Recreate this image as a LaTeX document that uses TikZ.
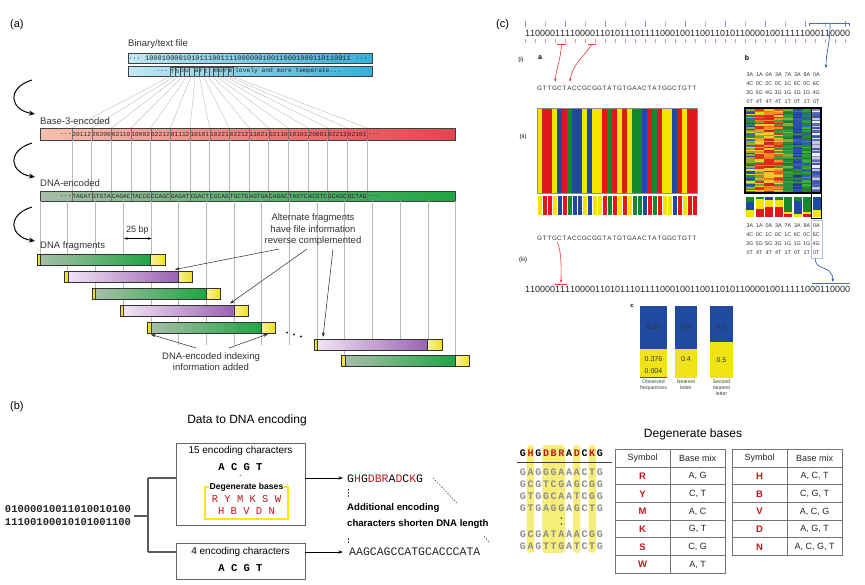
\documentclass[tikz,border=0pt]{standalone}
\usepackage{fontspec}
\setmainfont{Liberation Sans}
\setsansfont{Liberation Sans}
\setmonofont{Liberation Mono}
\usetikzlibrary{arrows.meta}
\newcommand\fsz[2]{\fontsize{#1}{#2}\selectfont}
\definecolor{cyanL}{HTML}{C2E8F3}
\definecolor{cyanR}{HTML}{35B0DA}
\definecolor{redL}{HTML}{F6BFB0}
\definecolor{redR}{HTML}{E6434E}
\definecolor{grnL}{HTML}{A8BEA8}
\definecolor{grnR}{HTML}{1FA544}
\definecolor{purL}{HTML}{F1E4F4}
\definecolor{purR}{HTML}{9A62B2}
\definecolor{fyL}{HTML}{F8F0A0}
\definecolor{fyR}{HTML}{F0E020}
\definecolor{colG}{HTML}{F5E400}
\definecolor{colT}{HTML}{E2171C}
\definecolor{colC}{HTML}{1F48A6}
\definecolor{colA}{HTML}{12892E}
\definecolor{cblue}{HTML}{1F4AA0}
\definecolor{cyel}{HTML}{F0E418}
\definecolor{dred}{HTML}{C4161C}
\definecolor{hlyel}{HTML}{F7EE7A}
% heatmap palettes
\definecolor{hm01}{HTML}{2A4FA0}\definecolor{hm02}{HTML}{2E8B3A}\definecolor{hm03}{HTML}{E8D82A}\definecolor{hm04}{HTML}{9AA83A}\definecolor{hm05}{HTML}{3A6AB0}
\definecolor{hm11}{HTML}{F08A20}\definecolor{hm12}{HTML}{F0D020}\definecolor{hm13}{HTML}{E03020}\definecolor{hm14}{HTML}{6AA83A}\definecolor{hm15}{HTML}{F0A030}
\definecolor{hm21}{HTML}{E02A20}\definecolor{hm22}{HTML}{F07A20}\definecolor{hm23}{HTML}{F0C828}\definecolor{hm24}{HTML}{C8281E}\definecolor{hm25}{HTML}{F09020}
\definecolor{hm31}{HTML}{E85A1E}\definecolor{hm32}{HTML}{3C9A3A}\definecolor{hm33}{HTML}{F09028}\definecolor{hm34}{HTML}{E8D030}\definecolor{hm35}{HTML}{D83020}
\definecolor{hm41}{HTML}{2E9A3A}\definecolor{hm42}{HTML}{1E7A2E}\definecolor{hm43}{HTML}{88A83A}\definecolor{hm44}{HTML}{2A8A40}\definecolor{hm45}{HTML}{3AA040}
\definecolor{hm51}{HTML}{2A4FA8}\definecolor{hm52}{HTML}{1E3A8A}\definecolor{hm53}{HTML}{2E8A3E}\definecolor{hm54}{HTML}{3A5AB8}\definecolor{hm55}{HTML}{2A4FA8}
\definecolor{hm61}{HTML}{2EA03A}\definecolor{hm62}{HTML}{1E8A30}\definecolor{hm63}{HTML}{3AB040}\definecolor{hm64}{HTML}{2A7A2A}\definecolor{hm65}{HTML}{3A5AB0}
\definecolor{hm71}{HTML}{3A5AB0}\definecolor{hm72}{HTML}{C8C8D8}\definecolor{hm73}{HTML}{F0F0F5}\definecolor{hm74}{HTML}{8890C8}\definecolor{hm75}{HTML}{5A6AB8}

\newcommand\dnafrag[4]{%
  \shade[left color=#3, right color=#4] (#1+3,#2) rectangle (#1+113.8,#2+11);
  \shade[left color=fyL, right color=fyR] (#1+113.8,#2) rectangle (#1+128,#2+11);
  \fill[fyR] (#1,#2) rectangle (#1+3,#2+11);
  \draw[fragframe] (#1,#2) rectangle (#1+128,#2+11);
  \draw[fragframe] (#1+113.8,#2) -- (#1+113.8,#2+11);
  \draw[fragframe, line width=0.4pt] (#1+3,#2) -- (#1+3,#2+11);
}
\def\bitlist{1,1,0,0,0,0,1,1,1,1,0,0,0,0,1,1,0,1,0,1,1,1,0,1,1,1,1,0,0,0,1,0,0,1,1,0,0,1,1,0,1,0,1,1,0,0,0,0,1,0,0,1,1,1,1,1,0,0,0,1,1,0,0,0,0}

\begin{document}
\begin{tikzpicture}[x=1pt,y=-1pt,
  lab/.style={font=\fsz{9.5}{11.5}, text=black!80, inner sep=0pt},
  bartxt/.style={font=\ttfamily\fsz{6.2}{6.5}, inner sep=0pt, text=black!85},
  fan/.style={draw=black!28, line width=0.35pt},
  vline/.style={draw=black!28, line width=0.45pt},
  divl/.style={draw=black!55, line width=0.3pt},
  bigcurve/.style={-{Stealth[length=6pt,width=5pt]}, line width=1pt},
  thinarr/.style={-{Stealth[length=4.5pt,width=3pt]}, line width=0.5pt, draw=black!85},
  barframe/.style={draw=black!75, line width=0.8pt},
  fragframe/.style={draw=black!80, line width=0.8pt},
  conn/.style={draw=black!65, line width=1.1pt},
  rarr/.style={-{Stealth[length=4.5pt,width=3pt]}, line width=0.6pt},
  boxst/.style={draw=black!60, line width=0.8pt},
  dashln/.style={draw=black!70, line width=0.6pt, dash pattern=on 1.5pt off 1.5pt},
  tbl/.style={draw=black!55, line width=0.7pt},
  ttxt/.style={font=\fsz{9}{10}, inner sep=0pt, text=black!85},
  tsym/.style={font=\bfseries\fsz{9.5}{10}, inner sep=0pt, text=dred},
  seqtxt/.style={font=\fsz{6.3}{7}, inner sep=0pt, text=black!80},
  bittxt/.style={font=\fsz{9}{9}, inner sep=0pt, text=black!85},
  btxt/.style={font=\fsz{5.4}{6}, inner sep=0pt, text=black!80},
  redarr/.style={-{Stealth[length=3.5pt,width=2.5pt]}, draw=colT!85, line width=0.6pt},
  bluearr/.style={-{Stealth[length=3.5pt,width=2.5pt]}, draw=cblue, line width=0.6pt},
  smlab/.style={font=\fsz{5.2}{6}, inner sep=0pt, text=black!75, align=center},
]
\useasboundingbox (0,0) rectangle (865,584);
\fill[white] (0,0) rectangle (865,584);

%================ PANEL A =================
\node[font=\fsz{11}{13}, anchor=west, inner sep=0pt] (la) at (10,25) {(a)};
\node[lab, anchor=west] (binlab) at (128,44) {Binary/text file};
\shade[left color=cyanL, right color=cyanR] (128,53) rectangle (372,63);
\draw[barframe] (128,53) rectangle (372,63);
\node[bartxt, font=\ttfamily\fsz{7}{7}] (bintxt) at (248,58.3) {··· 1000100001010111001111000000100110001000110110011 ···};
\shade[left color=cyanL, right color=cyanR] (128,66) rectangle (372,76.5);
\draw[barframe] (128,66) rectangle (372,76.5);
\node[bartxt, font=\ttfamily\fsz{6.3}{6.5}, anchor=east] (txtl) at (168,71.3) {...};
\foreach \ch [count=\k from 0] in {T,h,o,u,{},a,r,t,{},m,o,r,e}{
  \draw[black!70, line width=0.4pt] (170+4.85*\k,67) rectangle (174.85+4.85*\k,76);
  \node[bartxt, font=\ttfamily\fsz{6.3}{6.5}] (tc\k) at (172.4+4.85*\k,71.3) {\ch};
}
\node[bartxt, font=\ttfamily\fsz{6.3}{6.5}, anchor=west] (txtr) at (235,71.3) {lovely and more temperate...};

% fan lines
\foreach \i in {0,...,15}{
  \draw[fan] (170+4.2*\i,76.5) -- (72+19.67*\i,128);
}
\draw[bigcurve] (32,80) .. controls (6,88) and (10,110) .. (35,114);
\node[lab, anchor=west] (b3lab) at (40,121) {Base-3-encoded};
\shade[left color=redL, right color=redR] (40,128) rectangle (455,140);
\foreach \i in {0,...,15}{ \draw[divl] (72+19.67*\i,128) -- (72+19.67*\i,140); }
\draw[barframe] (40,128) rectangle (455,140);
\node[bartxt, anchor=east] (r0) at (71.5,134.3) {...};
\foreach \g [count=\i from 0] in {20112,20200,02110,10002,02212,01112,10101,10221,02212,11021,02110,10101,20001,02213,02101}{
  \node[bartxt] (rg\i) at (81.8+19.67*\i,134.3) {\g};
}
\node[bartxt, anchor=west] (r16) at (368,134.3) {...};

\foreach \i in {0,...,15}{ \draw[vline] (72+19.67*\i,140) -- (72+19.67*\i,191); }
\draw[bigcurve] (32,143) .. controls (6,151) and (10,173) .. (35,177);
\node[lab, anchor=west] (dnalab) at (40,183) {DNA-encoded};
\shade[left color=grnL, right color=grnR] (40,191) rectangle (455,201);
\foreach \i in {0,...,15}{ \draw[divl] (72+19.67*\i,191) -- (72+19.67*\i,201); }
\draw[barframe] (40,191) rectangle (455,201);
\node[bartxt, anchor=east] (g0) at (71.5,196.3) {...};
\foreach \g [count=\i from 0] in {TAGAT,GTGTA,CAGAC,TACCG,CCAGC,GAGAT,CGACT,CGCAG,TGCTG,AGTGA,CAGAC,TAGTC,ACGTC,GCAGC,GCTAG}{
  \node[bartxt] (gg\i) at (81.8+19.67*\i,196.3) {\g};
}
\node[bartxt, anchor=west] (g16) at (368,196.3) {...};

% vertical lines below DNA bar
\foreach \i/\e in {0/254,1/271,2/288,3/305,4/322,5/345,6/345,7/345,8/345,9/345,10/339,11/355,12/339,13/339,14/339,15/355}{
  \draw[vline] (40+27.7*\i,201) -- (40+27.7*\i,\e);
}
\draw[bigcurve] (32,207) .. controls (6,215) and (10,237) .. (35,241);
\node[lab, anchor=west] (fraglab) at (40,246.5) {DNA fragments};
\node[font=\fsz{9}{10}, text=black!80, inner sep=0pt] (bp) at (137.5,230) {25 bp};
\coordinate (bpl) at (124,238.5);
\coordinate (bpr) at (151.5,238.5);
\draw[{Stealth[length=3.5pt,width=2.5pt]}-{Stealth[length=3.5pt,width=2.5pt]}, line width=0.6pt] (bpl) -- (bpr);

\dnafrag{37}{254}{grnL}{grnR}
\dnafrag{64.7}{271}{purL}{purR}
\dnafrag{92.4}{288}{grnL}{grnR}
\dnafrag{120.1}{305}{purL}{purR}
\dnafrag{147.8}{322}{grnL}{grnR}
\dnafrag{314}{339}{purL}{purR}
\dnafrag{341.7}{355}{grnL}{grnR}
\foreach \dx/\dy [count=\n] in {287/332.5,294/334.5,301/336.5}{ \fill[black!85] (\dx,\dy) circle (1.1pt); }

\node[lab, align=center] (alt) at (313,230) {Alternate fragments\\have file information\\reverse complemented};
\coordinate (alt1) at (279,249);
\coordinate (alt2) at (307,249);
\coordinate (alt3) at (333,249);
\coordinate (f2t) at (175,269.5);
\coordinate (f4t) at (230,303.5);
\coordinate (f6t) at (323,337);
\draw[thinarr] (alt1) -- (f2t);
\draw[thinarr] (alt2) -- (f4t);
\draw[thinarr] (alt3) -- (f6t);
\node[lab, align=center] (idx) at (211,361.5) {DNA-encoded indexing\\information added};
\coordinate (idx1) at (196,348);
\coordinate (idx2) at (229,348);
\coordinate (f5l) at (151,334.5);
\coordinate (f5r) at (268,334);
\draw[thinarr] (idx1) -- (f5l);
\draw[thinarr] (idx2) -- (f5r);

%================ PANEL B =================
\node[font=\fsz{11}{13}, anchor=west, inner sep=0pt] (lb) at (10,407) {(b)};
\node[font=\fsz{12}{14}, inner sep=0pt] (dtitle) at (247,420) {Data to DNA encoding};
\node[font=\ttfamily\bfseries\fsz{10.5}{13}, align=left, inner sep=0pt, text=black!85] (bin) at (68,516) {01000010011010010100\\11100100010101001100};
\draw[boxst] (176,443) rectangle (305,525);
\node[font=\fsz{10}{11}, inner sep=0pt] (e15) at (240.5,451) {15 encoding characters};
\node[font=\ttfamily\bfseries\fsz{10.5}{11}, inner sep=0pt] (acgt1) at (240.5,467.5) {A C G T};
\node[font=\fsz{5}{6}, inner sep=0pt, text=black!60] (plus) at (240.5,476) {+};
\draw[draw=yellow!90!orange, line width=1.2pt] (205,487) rectangle (288,519);
\node[font=\bfseries\fsz{8.6}{10}, fill=white, inner sep=1pt] (degl) at (246.5,487) {Degenerate bases};
\node[font=\ttfamily\fsz{10.5}{11}, inner sep=0pt, text=dred] (rym) at (246.5,499.5) {R Y M K S W};
\node[font=\ttfamily\fsz{10.5}{11}, inner sep=0pt, text=dred] (hbv) at (246.5,511) {H B V D N};
\draw[boxst] (176,543) rectangle (305,579);
\node[font=\fsz{10}{11}, inner sep=0pt] (e4) at (240.5,551.5) {4 encoding characters};
\node[font=\ttfamily\bfseries\fsz{10.5}{11}, inner sep=0pt] (acgt2) at (240.5,568) {A C G T};
\coordinate (bj) at (148,516);
\coordinate (bjt) at (148,478);
\coordinate (bjb) at (148,552);
\draw[conn] (bin.east)+(3,0) -- (bj);
\draw[conn] (bjt) -- (bjb);
\draw[conn] (bjt) -- (176,478);
\draw[conn] (bjb) -- (176,552);
\coordinate (o1) at (343,478);
\coordinate (o2) at (343,552);
\draw[rarr] (305,478) -- (o1);
\draw[rarr] (305,552) -- (o2);
\node[font=\ttfamily\fsz{11.5}{12}, anchor=west, inner sep=0pt] (short) at (347,479) {G\textcolor{dred}{H}G\textcolor{dred}{DBR}A\textcolor{dred}{D}C\textcolor{dred}{K}G};
\node[font=\ttfamily\fsz{11.5}{12}, anchor=west, inner sep=0pt, text=black!85] (long) at (349,551.5) {AAGCAGCCATGCACCCATA};
\node[font=\bfseries\fsz{9.6}{16}, anchor=north west, align=left, inner sep=0pt] (addl) at (347,503) {Additional encoding\\characters shorten DNA length};
\draw[dashln] (348.5,489) -- (348.5,498);
\draw[dashln] (348.5,538) -- (348.5,544);
\draw[dashln] (433,478) -- (457,503);
\draw[dashln] (484,536) -- (490,543);

% alignment
\foreach \k in {1,7,9}{ \fill[hlyel, rounded corners=3.5pt] (519.2+7.7*\k,445) rectangle (526.5+7.7*\k,553); }
\fill[hlyel, rounded corners=3.5pt] (542.3,445) rectangle (565.3,553);
\foreach \ch/\cc [count=\k from 0] in {G/black,H/dred,G/black,D/dred,B/dred,R/dred,A/black,D/dred,C/black,K/dred,G/black}{
  \node[font=\ttfamily\bfseries\fsz{10}{10}, inner sep=0pt, text=\cc] (hd\k) at (522.9+7.7*\k,453) {\ch};
}
\draw[black!75, line width=0.9pt] (517,462) -- (612,462);
\foreach \s/\yy [count=\r] in {{G,A,G,G,G,A,A,A,C,T,G}/472,{G,C,G,T,C,G,A,G,C,G,G}/484,{G,T,G,G,C,A,A,T,C,G,G}/496,{G,T,G,A,G,G,A,G,C,T,G}/508,{G,C,G,A,T,A,A,A,C,G,G}/534,{G,A,G,T,T,G,A,T,C,T,G}/546}{
  \foreach \ch [count=\k from 0] in \s {
    \node[font=\ttfamily\bfseries\fsz{10}{10}, inner sep=0pt, text=black!45] at (522.9+7.7*\k,\yy) {\ch};
  }
}
\fill[black!70] (561.4,518) circle (0.9pt);
\fill[black!70] (561.4,524) circle (0.9pt);

\node[font=\fsz{12}{14}, inner sep=0pt] (dgtitle) at (693,434) {Degenerate bases};
% table 1
\draw[tbl] (615,449) rectangle (725,573);
\draw[tbl] (670,449) -- (670,573);
\foreach \j in {0,...,4}{ \draw[tbl] (615,467+17.67*\j) -- (725,467+17.67*\j); }
\draw[tbl] (615,555.35) -- (725,555.35);
\node[ttxt] (h1a) at (642.5,458.5) {Symbol};
\node[ttxt] (h1b) at (697.5,458.5) {Base mix};
\foreach \s/\m [count=\j from 0] in {R/{A, G},Y/{C, T},M/{A, C},K/{G, T},S/{C, G},W/{A, T}}{
  \node[tsym] (t1s\j) at (642.5,476.2+17.67*\j) {\s};
  \node[ttxt] (t1m\j) at (697.5,476.2+17.67*\j) {\m};
}
% table 2
\draw[tbl] (732,449) rectangle (842,555.35);
\draw[tbl] (787,449) -- (787,555.35);
\foreach \j in {0,...,4}{ \draw[tbl] (732,467+17.67*\j) -- (842,467+17.67*\j); }
\node[ttxt] (h2a) at (759.5,458.5) {Symbol};
\node[ttxt] (h2b) at (814.5,458.5) {Base mix};
\foreach \s/\m [count=\j from 0] in {H/{A, C, T},B/{C, G, T},V/{A, C, G},D/{A, G, T},N/{A, C, G, T}}{
  \node[tsym] (t2s\j) at (759.5,476.2+17.67*\j) {\s};
  \node[ttxt] (t2m\j) at (814.5,476.2+17.67*\j) {\m};
}

%================ PANEL C =================
\node[font=\fsz{11}{13}, anchor=west, inner sep=0pt] (lc) at (496,25) {(c)};
\foreach \d [count=\k from 0] in \bitlist {
  \node[bittxt] (tb\k) at (527.5+5*\k,33.5) {\d};
  \node[bittxt] (bb\k) at (527.5+5*\k,289.5) {\d};
}
\foreach \k in {0,8,...,64}{ \draw[cblue!60, line width=0.6pt] (525+5*\k,21) -- (525+5*\k,26.5); }
\foreach \k in {4,12,...,60}{ \draw[black!30, line width=0.5pt] (525+5*\k,22) -- (525+5*\k,26.5); }
\foreach \k in {0,2,...,64}{ \draw[colT!45, line width=0.5pt] (525+5*\k,39) -- (525+5*\k,43); }
% brackets
\draw[colT!85, line width=0.7pt] (557,44) -- (566,44);
\draw[colT!85, line width=0.7pt] (588,44) -- (596,44);
\draw[cblue!80, line width=0.8pt] (809,26) -- (809,23) -- (849,23) -- (849,26);
\coordinate (rb1) at (561.5,44);
\coordinate (rb2) at (592,44);
\coordinate (bb1) at (830,24);
\draw[redarr] (rb1) .. controls (561,58) and (556,70) .. (555,82);
\draw[redarr] (rb2) .. controls (585,56) and (572,64) .. (570,82);
\draw[bluearr] (bb1) .. controls (830,45) and (826,52) .. (826,68);

\node[font=\fsz{6}{7}, inner sep=0pt] (ci) at (521,60) {(i)};
\node[font=\fsz{6}{7}, inner sep=0pt] (cii) at (523,137) {(ii)};
\node[font=\fsz{6}{7}, inner sep=0pt] (ciii) at (523,260) {(iii)};
\node[font=\bfseries\fsz{7}{8}, inner sep=0pt] (ca) at (540,58) {a};
\node[font=\bfseries\fsz{7}{8}, inner sep=0pt] (cb) at (747,58) {b};

% stripes (a)
\foreach \ch [count=\k from 0] in {G,T,T,G,C,T,A,C,C,G,C,G,G,T,A,T,G,T,G,A,A,C,T,A,T,G,G,C,T,G,T,T}{
  \fill[col\ch] (537+5*\k,108) rectangle (542.05+5*\k,193);
  \fill[col\ch] (537.7+5*\k,196) rectangle (541.5+5*\k,215);
  \node[seqtxt] (sa\k) at (539.5+5*\k,88) {\ch};
  \node[seqtxt] (sb\k) at (539.5+5*\k,238) {\ch};
}
\draw[black!45, line width=0.6pt] (537,108) rectangle (697,193);

% heatmap (b)
\pgfmathsetseed{11}
\foreach \c in {0,...,7}{
  \foreach \r in {0,...,56}{
    \pgfmathrandominteger{\kk}{1}{5}
    \fill[hm\c\kk] (745+9.5*\c,108+1.491*\r) rectangle (754.6+9.5*\c,109.6+1.491*\r);
  }
}
\draw[black, line width=1.1pt] (745,108) rectangle (821,193);
% small bars
\foreach \c/\la/\ca/\lb/\cbb/\lc/\ccc in {0/5/colA/8/colC/7/colG, 1/2/colA/10/colG/8/colT, 2/3/colC/7/colG/10/colT, 3/3/colA/7/colG/10/colT, 4/15/colA/2/colG/3/colT, 5/4/colA/13/colC/3/colG, 6/15/colA/2/colG/3/colT, 7/13/colC/0/colG/7/colG}{
  \fill[\ca] (746+9.5*\c,197) rectangle (754+9.5*\c,197+\la);
  \fill[\cbb] (746+9.5*\c,197+\la) rectangle (754+9.5*\c,197+\la+\lb);
  \fill[\ccc] (746+9.5*\c,197+\la+\lb) rectangle (754+9.5*\c,217);
}
\draw[black, line width=1pt] (811.5,107.5) rectangle (821.5,218);
% text lines b
\foreach \s/\yy in {{3A,1A,0A,3A,7A,3A,8A,0A}/75,{4C,0C,2C,0C,1C,6C,0C,6C}/84,{3G,5G,4G,3G,1G,1G,1G,4G}/93,{0T,4T,4T,4T,1T,0T,1T,0T}/102,{3A,1A,0A,3A,7A,3A,8A,0A}/226,{4C,0C,1C,0C,1C,6C,0C,6C}/235,{3G,5G,5G,3G,1G,1G,1G,4G}/244,{0T,4T,4T,4T,1T,0T,1T,0T}/253}{
  \foreach \t [count=\c from 0] in \s { \node[btxt] at (749.8+9.5*\c,\yy) {\t}; }
}
\draw[cblue!35, line width=0.6pt] (811.5,220) rectangle (822,258.5);

% bottom arrows
\coordinate (ra) at (557.5,242);
\coordinate (rt) at (561,283);
\draw[redarr] (ra) .. controls (562,255) and (561,268) .. (rt);
\draw[colT!85, line width=0.8pt] (555,284) -- (567,284);
\draw[cblue!80, line width=0.8pt] (812,283.5) -- (850,283.5);
\coordinate (ba) at (815,258.5);
\coordinate (bt) at (833,282);
\draw[bluearr] (ba) .. controls (816,272) and (832,264) .. (bt);

% bar chart c
\node[font=\bfseries\fsz{6}{7}, inner sep=0pt] (cc) at (632,306) {c};
\fill[cblue] (640,306) rectangle (667,349);
\fill[cyel] (640,349) rectangle (667,376.5);
\fill[colT] (640,376.5) rectangle (667,377.5);
\fill[cblue] (675,306) rectangle (697,349);
\fill[cyel] (675,349) rectangle (697,377.5);
\fill[cblue] (710,306) rectangle (733,342);
\fill[cyel] (710,342) rectangle (733,377.5);
\node[font=\fsz{7}{8}, inner sep=0pt, text=black!80] (v1) at (653.5,327) {0.62};
\node[font=\fsz{7}{8}, inner sep=0pt, text=black!80] (v2) at (653.5,359) {0.376};
\node[font=\fsz{7}{8}, inner sep=0pt, text=black!80] (v3) at (653.5,371) {0.004};
\node[font=\fsz{7}{8}, inner sep=0pt, text=black!80] (v4) at (686,327) {0.6};
\node[font=\fsz{7}{8}, inner sep=0pt, text=black!80] (v5) at (686,359) {0.4};
\node[font=\fsz{7}{8}, inner sep=0pt, text=black!80] (v6) at (721.5,327) {0.5};
\node[font=\fsz{7}{8}, inner sep=0pt, text=black!80] (v7) at (721.5,360) {0.5};
\node[smlab, anchor=north] (o1l) at (653.5,380) {Observed\\frequencies};
\node[smlab, anchor=north] (o2l) at (686,380) {Nearest\\letter};
\node[smlab, anchor=north] (o3l) at (721.5,380) {Second\\nearest\\letter};
\end{tikzpicture}
\end{document}
